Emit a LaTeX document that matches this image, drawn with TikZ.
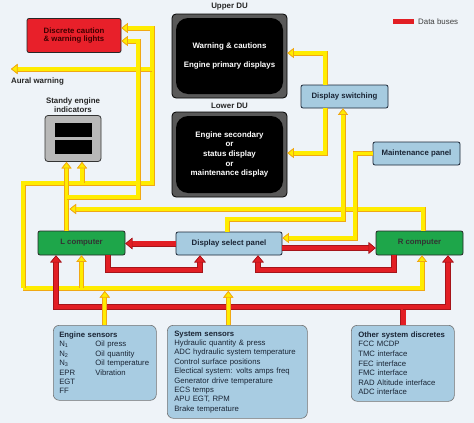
\documentclass[tikz,border=0pt]{standalone}
\usepackage{fontspec}
\setmainfont{Liberation Sans}
\usetikzlibrary{positioning}
\usetikzlibrary{arrows.meta}
\usetikzlibrary{calc}

\definecolor{bgblue}{RGB}{238,243,248}
\definecolor{feedfill}{RGB}{255,236,0}
\definecolor{feededge}{RGB}{240,168,20}
\definecolor{busred}{RGB}{226,30,36}
\definecolor{busedge}{RGB}{165,20,26}
\definecolor{compgreen}{RGB}{30,166,74}
\definecolor{panelblue}{RGB}{166,203,224}
\definecolor{sensorblue}{RGB}{168,204,226}
\definecolor{cautionred}{RGB}{232,32,42}
\definecolor{navytext}{RGB}{26,37,53}

\begin{document}
\begin{tikzpicture}[x=1pt, y=-1pt,
  heading/.style={font=\bfseries\fontsize{7.9}{9}\selectfont, text=black!85, align=center, inner sep=0pt},
  unit/.style={draw=black!85, line width=0.8pt, rounded corners=2pt, inner sep=0pt, align=center, font=\bfseries\fontsize{7.8}{9}\selectfont},
  comp/.style={unit, fill=compgreen, text=black!80, minimum width=87pt, minimum height=24pt},
  panel/.style={unit, fill=panelblue, draw=navytext, text=navytext, minimum width=87pt, minimum height=23pt},
  screen/.style={unit, fill=black!65, draw=black, rounded corners=4pt, text=white, minimum width=115pt, minimum height=84pt, font=\bfseries\fontsize{7.9}{9.6}\selectfont,
    path picture={\fill[black, rounded corners=12pt] ([shift={(4pt,-4pt)}]path picture bounding box.north west) rectangle ([shift={(-4pt,4pt)}]path picture bounding box.south east);}},
  sensors/.style={draw=black!55, line width=0.6pt, fill=sensorblue, rounded corners=6pt, anchor=north west, align=left, inner xsep=7pt, inner ysep=4pt, text=navytext, font=\fontsize{7.75}{9.4}\selectfont},
  feed/.style={preaction={draw=feededge, line width=5pt}, draw=feedfill, line width=3.2pt},
  feedtip/.style={-{Triangle[length=6.5pt, width=10pt, fill=feedfill, color=feededge, line width=0.7pt]}},
  bus/.style={preaction={draw=busedge, line width=6pt}, draw=busred, line width=4.6pt},
  bustip/.style={-{Triangle[length=7pt, width=11.5pt, fill=busred, color=busedge, line width=0.6pt]}}
]
\fill[bgblue] (0,0) rectangle (474,423);

\node[unit, fill=cautionred, text=red!25!black, minimum width=94pt, minimum height=34pt] (caution) at (74,35.5) {Discrete caution\\\& warning lights};
\node[heading, anchor=west] (auralname) at (11,81) {Aural warning};
\coordinate (aural) at (11,69);

\node[unit, fill=black!28, draw=black!80, rounded corners=3pt, minimum width=56pt, minimum height=46pt] (stby) at (73,138.5) {};
\node[heading, above=2pt of stby] (stbyname) {Standy engine\\indicators};
\fill[black] ([shift={(-18pt,15.5pt)}]stby.center) rectangle ([shift={(19pt,1.5pt)}]stby.center);
\fill[black] ([shift={(-18pt,-1.5pt)}]stby.center) rectangle ([shift={(19pt,-15.5pt)}]stby.center);

\node[screen] (udu) at (229.5,56) {Warning \& cautions\\[9pt]Engine primary displays};
\node[heading, above=3pt of udu] (uduname) {Upper DU};
\node[screen, minimum height=85pt] (ldu) at (229.5,154.5) {Engine secondary\\or\\status display\\or\\maintenance display};
\node[heading, above=3pt of ldu] (lduname) {Lower DU};

\node[panel] (dsw) at (344.5,96.5) {Display switching};
\node[panel] (maint) at (416.5,153.5) {Maintenance panel};

\node[font=\fontsize{7.9}{9}\selectfont, text=black!75, anchor=west, inner sep=0pt] (legend) at (418,21.5) {Data buses};
\fill[busred] ([xshift=-25pt,yshift=-2.5pt]legend.west) rectangle ([xshift=-4pt,yshift=2.5pt]legend.west);

\node[comp] (lcomp) at (81.5,243) {L computer};
\node[panel, minimum width=106pt] (dsp) at (229,243.5) {Display select panel};
\node[comp] (rcomp) at (419.5,243) {R computer};

\node[sensors, inner xsep=6pt, text width=91pt, minimum height=75pt] (eng) at (53,325) {\textbf{Engine sensors}\\
  \makebox[36pt][l]{N\textsubscript{1}}Oil press\\
  \makebox[36pt][l]{N\textsubscript{2}}Oil quantity\\
  \makebox[36pt][l]{N\textsubscript{3}}Oil temperature\\
  \makebox[36pt][l]{EPR}Vibration\\
  EGT\\
  FF};
\node[sensors, text width=126pt, minimum height=93pt] (sys) at (167,325) {\textbf{System sensors}\\
  Hydraulic quantity \& press\\
  ADC hydraulic system temperature\\
  Control surface positions\\
  Electical system: volts amps freq\\
  Generator drive temperature\\
  ECS temps\\
  APU EGT, RPM\\
  Brake temperature};
\node[sensors, text width=89pt, minimum height=76pt, font=\fontsize{7.75}{9.6}\selectfont] (oth) at (351,325) {\textbf{Other system discretes}\\
  FCC MCDP\\
  TMC interface\\
  FEC interface\\
  FMC interface\\
  RAD Altitude interface\\
  ADC interface};

\coordinate (sbl) at (23,288);
\coordinate (sbr) at (422,288);

\draw[feed,feedtip] (sbl) -- (sbr) -- (rcomp.south -| sbr);
\draw[feed,feedtip] (lcomp.south |- sbl) -- (lcomp.south);
\draw[feed,feedtip] (sbl) |- (152,183) |- (caution.east |- 0,28);
\draw[feed,feedtip] (152,69) -- (aural);
\draw[feed,feedtip] (82,183) -- (stby.south -| 82,0);
\draw[feed,feedtip] ([xshift=-15pt]lcomp.north) -- (stby.south -| 66.5,0);
\draw[feed,feedtip] (66.5,197) -| (138,41) -- (caution.east |- 0,41);
\draw[feed,feedtip] ([xshift=3.5pt]rcomp.north) |- (69.5,209);
\draw[feed,feedtip] ([xshift=-2pt]dsp.north) |- (343,219) -- (dsw.south -| 343,0);
\draw[feed,feedtip] ([xshift=-19.5pt]dsw.north) |- (udu.east |- 0,53);
\draw[feed,feedtip] ([xshift=-19.5pt]dsw.south) |- (ldu.east |- 0,153);
\draw[feed,feedtip] (maint.west) -| (355,238) -- (dsp.east |- 0,238);

\draw[bus,bustip] (dsp.west) -- (lcomp.east |- dsp.west);
\draw[bus,bustip] ([yshift=-4.5pt]dsp.east) -- (rcomp.west |- 0,248);
\draw[bus,bustip] ([xshift=26.5pt]lcomp.south) |- (200,270) -- (dsp.south -| 200,0);
\draw[bus,bustip] ([xshift=-25.5pt]rcomp.south) |- (258,270) -- (dsp.south -| 258,0);
\draw[bus,bustip] ([xshift=0.5pt]oth.north) |- (56,307) -- (lcomp.south -| 56,0);
\draw[bus,bustip] (403,307) -| (rcomp.south -| 448,0);

\draw[feed,feedtip] (eng.north) -- (eng.north |- 0,291);
\draw[feed,feedtip] ([xshift=-9pt]sys.north) -- ([xshift=-9pt]sys.north |- 0,291);

\end{tikzpicture}
\end{document}
